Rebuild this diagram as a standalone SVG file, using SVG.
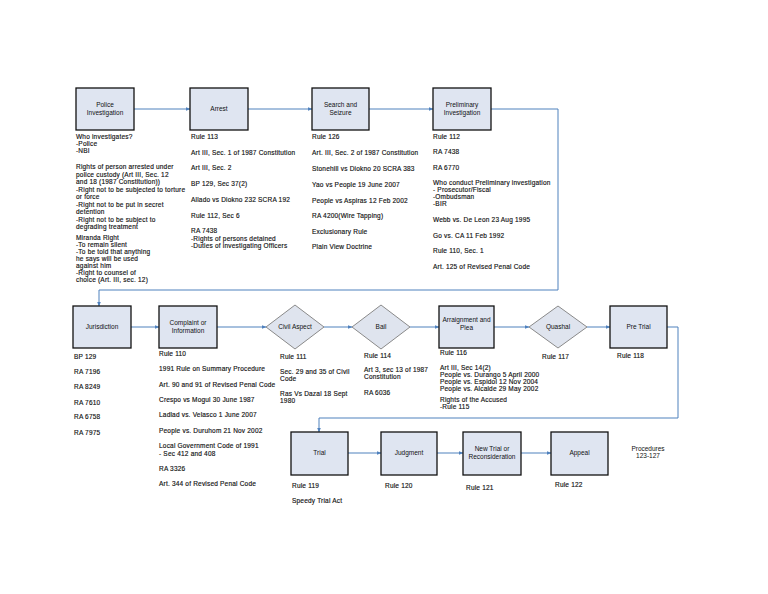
<svg xmlns="http://www.w3.org/2000/svg" width="768" height="594" viewBox="0 0 768 594">
<defs>
<marker id="ah" viewBox="0 0 10 10" refX="9" refY="5" markerWidth="5" markerHeight="5" orient="auto" markerUnits="userSpaceOnUse">
<path d="M0,1 L10,5 L0,9 z" fill="#4f81bd"/>
</marker>
<style>
.box{fill:#dfe5f1;stroke:#111;stroke-width:1.3}
.dia{fill:#dfe4ee;stroke:#8a8a8a;stroke-width:1}
.lbl{font-family:"Liberation Sans",Arial,sans-serif;font-size:6.5px;fill:#111;text-anchor:middle}
.t{font-family:"Liberation Sans",Arial,sans-serif;font-size:6.5px;fill:#111;stroke:#111;stroke-width:0.15;letter-spacing:0.2px}
.c{fill:none;stroke:#4f81bd;stroke-width:1}
</style>
</defs>
<rect width="768" height="594" fill="#fff"/>

<g id="connectors">
<line class="c" x1="134" y1="109" x2="190" y2="109" marker-end="url(#ah)"/>
<line class="c" x1="248" y1="109" x2="312" y2="109" marker-end="url(#ah)"/>
<line class="c" x1="369" y1="109" x2="433" y2="109" marker-end="url(#ah)"/>
<polyline class="c" points="491,109 558,109 558,290 99,290 99,306" marker-end="url(#ah)"/>
<line class="c" x1="131" y1="327" x2="159" y2="327" marker-end="url(#ah)"/>
<line class="c" x1="217" y1="327" x2="266" y2="327" marker-end="url(#ah)"/>
<line class="c" x1="324" y1="327" x2="352" y2="327" marker-end="url(#ah)"/>
<line class="c" x1="410" y1="327" x2="439" y2="327" marker-end="url(#ah)"/>
<line class="c" x1="494" y1="327" x2="529" y2="327" marker-end="url(#ah)"/>
<line class="c" x1="587" y1="327" x2="610" y2="327" marker-end="url(#ah)"/>
<polyline class="c" points="667,327 678,327 678,418 319,418 319,432" marker-end="url(#ah)"/>
<line class="c" x1="348" y1="453" x2="381" y2="453" marker-end="url(#ah)"/>
<line class="c" x1="437" y1="453" x2="463" y2="453" marker-end="url(#ah)"/>
<line class="c" x1="521" y1="453" x2="551" y2="453" marker-end="url(#ah)"/>
</g>

<g id="police">
<rect class="box" x="76" y="88" width="58" height="42"/>
<text class="lbl" x="105" y="107">Police</text>
<text class="lbl" x="105" y="115">Investigation</text>
<text class="t" x="76" y="139">Who investigates?</text>
<text class="t" x="76" y="146">-Police</text>
<text class="t" x="76" y="153">-NBI</text>
<text class="t" x="76" y="169">Rights of person arrested under</text>
<text class="t" x="76" y="177">police custody (Art III, Sec. 12</text>
<text class="t" x="76" y="184">and 18 (1987 Constitution))</text>
<text class="t" x="76" y="192">-Right not to be subjected to torture</text>
<text class="t" x="76" y="199">or force</text>
<text class="t" x="76" y="207">-Right not to be put in secret</text>
<text class="t" x="76" y="214">detention</text>
<text class="t" x="76" y="222">-Right not to be subject to</text>
<text class="t" x="76" y="229">degrading treatment</text>
<text class="t" x="76" y="240">Miranda Right</text>
<text class="t" x="76" y="247">-To remain silent</text>
<text class="t" x="76" y="254">-To be told that anything</text>
<text class="t" x="76" y="261">he says will be used</text>
<text class="t" x="76" y="268">against him</text>
<text class="t" x="76" y="275">-Right to counsel of</text>
<text class="t" x="76" y="282">choice (Art. III, sec. 12)</text>
</g>

<g id="arrest">
<rect class="box" x="190" y="88" width="58" height="42"/>
<text class="lbl" x="219" y="111">Arrest</text>
<text class="t" x="191" y="139">Rule 113</text>
<text class="t" x="191" y="155">Art III, Sec. 1 of 1987 Constitution</text>
<text class="t" x="191" y="170">Art III, Sec. 2</text>
<text class="t" x="191" y="186">BP 129, Sec 37(2)</text>
<text class="t" x="191" y="202">Allado vs Diokno 232 SCRA 192</text>
<text class="t" x="191" y="218">Rule 112, Sec 6</text>
<text class="t" x="191" y="233">RA 7438</text>
<text class="t" x="191" y="241">-Rights of persons detained</text>
<text class="t" x="191" y="248">-Duties of investigating Officers</text>
</g>

<g id="search">
<rect class="box" x="312" y="88" width="57" height="42"/>
<text class="lbl" x="340.5" y="107">Search and</text>
<text class="lbl" x="340.5" y="115">Seizure</text>
<text class="t" x="312" y="139">Rule 126</text>
<text class="t" x="312" y="155">Art. III, Sec. 2 of 1987 Constitution</text>
<text class="t" x="312" y="171">Stonehill vs Diokno 20 SCRA 383</text>
<text class="t" x="312" y="187">Yao vs People 19 June 2007</text>
<text class="t" x="312" y="203">People vs Aspiras 12 Feb 2002</text>
<text class="t" x="312" y="218">RA 4200(Wire Tapping)</text>
<text class="t" x="312" y="234">Exclusionary Rule</text>
<text class="t" x="312" y="249">Plain View Doctrine</text>
</g>

<g id="prelim">
<rect class="box" x="433" y="88" width="58" height="42"/>
<text class="lbl" x="462" y="107">Preliminary</text>
<text class="lbl" x="462" y="115">Investigation</text>
<text class="t" x="433" y="139">Rule 112</text>
<text class="t" x="433" y="154">RA 7438</text>
<text class="t" x="433" y="170">RA 6770</text>
<text class="t" x="433" y="185">Who conduct Preliminary investigation</text>
<text class="t" x="433" y="192">- Prosecutor/Fiscal</text>
<text class="t" x="433" y="199">-Ombudsman</text>
<text class="t" x="433" y="206">-BIR</text>
<text class="t" x="433" y="222">Webb vs. De Leon 23 Aug 1995</text>
<text class="t" x="433" y="238">Go vs. CA 11 Feb 1992</text>
<text class="t" x="433" y="253">Rule 110, Sec. 1</text>
<text class="t" x="433" y="269">Art. 125 of Revised Penal Code</text>
</g>

<g id="jurisdiction">
<rect class="box" x="73" y="306" width="58" height="42"/>
<text class="lbl" x="102" y="329">Jurisdiction</text>
<text class="t" x="74" y="359">BP 129</text>
<text class="t" x="74" y="374">RA 7196</text>
<text class="t" x="74" y="389">RA 8249</text>
<text class="t" x="74" y="405">RA 7610</text>
<text class="t" x="74" y="419">RA 6758</text>
<text class="t" x="74" y="435">RA 7975</text>
</g>

<g id="complaint">
<rect class="box" x="159" y="306" width="58" height="42"/>
<text class="lbl" x="188" y="325">Complaint or</text>
<text class="lbl" x="188" y="333">Information</text>
<text class="t" x="159" y="356">Rule 110</text>
<text class="t" x="159" y="371">1991 Rule on Summary Procedure</text>
<text class="t" x="159" y="387">Art. 90 and 91 of Revised Penal Code</text>
<text class="t" x="159" y="402">Crespo vs Mogul 30 June 1987</text>
<text class="t" x="159" y="417">Ladlad vs. Velasco 1 June 2007</text>
<text class="t" x="159" y="433">People vs. Duruhom 21 Nov 2002</text>
<text class="t" x="159" y="448">Local Government Code of 1991</text>
<text class="t" x="159" y="456">- Sec 412 and 408</text>
<text class="t" x="159" y="471">RA 3326</text>
<text class="t" x="159" y="486">Art. 344 of Revised Penal Code</text>
</g>

<g id="civil">
<polygon class="dia" points="295,305 324,327 295,349 266,327"/>
<text class="lbl" x="295" y="329">Civil Aspect</text>
<text class="t" x="280" y="359">Rule 111</text>
<text class="t" x="280" y="374">Sec. 29 and 35 of Civil</text>
<text class="t" x="280" y="381">Code</text>
<text class="t" x="280" y="396">Ras Vs Dazal 18 Sept</text>
<text class="t" x="280" y="403">1980</text>
</g>

<g id="bail">
<polygon class="dia" points="381,305 410,327 381,349 352,327"/>
<text class="lbl" x="381" y="329">Bail</text>
<text class="t" x="364" y="358">Rule 114</text>
<text class="t" x="364" y="372">Art 3, sec 13 of 1987</text>
<text class="t" x="364" y="379">Constitution</text>
<text class="t" x="364" y="395">RA 6036</text>
</g>

<g id="arraignment">
<rect class="box" x="439" y="306" width="55" height="42"/>
<text class="lbl" x="466.5" y="322">Arraignment and</text>
<text class="lbl" x="466.5" y="330">Plea</text>
<text class="t" x="440" y="355">Rule 116</text>
<text class="t" x="440" y="370">Art III, Sec 14(2)</text>
<text class="t" x="440" y="377">People vs. Durango 5 April 2000</text>
<text class="t" x="440" y="384">People vs. Espidol 12 Nov 2004</text>
<text class="t" x="440" y="391">People vs. Alcalde 29 May 2002</text>
<text class="t" x="440" y="402">Rights of the Accused</text>
<text class="t" x="440" y="409">-Rule 115</text>
</g>

<g id="quashal">
<polygon class="dia" points="558,306 587,327 558,348 529,327"/>
<text class="lbl" x="558" y="329">Quashal</text>
<text class="t" x="542" y="359">Rule 117</text>
</g>

<g id="pretrial">
<rect class="box" x="610" y="306" width="57" height="42"/>
<text class="lbl" x="638.5" y="329">Pre Trial</text>
<text class="t" x="617" y="358">Rule 118</text>
</g>

<g id="trial">
<rect class="box" x="291" y="432" width="57" height="43"/>
<text class="lbl" x="319.5" y="455">Trial</text>
<text class="t" x="292" y="488">Rule 119</text>
<text class="t" x="292" y="503">Speedy Trial Act</text>
</g>

<g id="judgment">
<rect class="box" x="381" y="432" width="56" height="43"/>
<text class="lbl" x="409" y="455">Judgment</text>
<text class="t" x="385" y="488">Rule 120</text>
</g>

<g id="newtrial">
<rect class="box" x="463" y="432" width="58" height="43"/>
<text class="lbl" x="492" y="451">New Trial or</text>
<text class="lbl" x="492" y="459">Reconsideration</text>
<text class="t" x="466" y="490">Rule 121</text>
</g>

<g id="appeal">
<rect class="box" x="551" y="432" width="57" height="43"/>
<text class="lbl" x="579.5" y="455">Appeal</text>
<text class="t" x="555" y="487">Rule 122</text>
</g>

<g id="procedures">
<text class="lbl" x="648" y="451">Procedures</text>
<text class="lbl" x="648" y="458">123-127</text>
</g>
</svg>
